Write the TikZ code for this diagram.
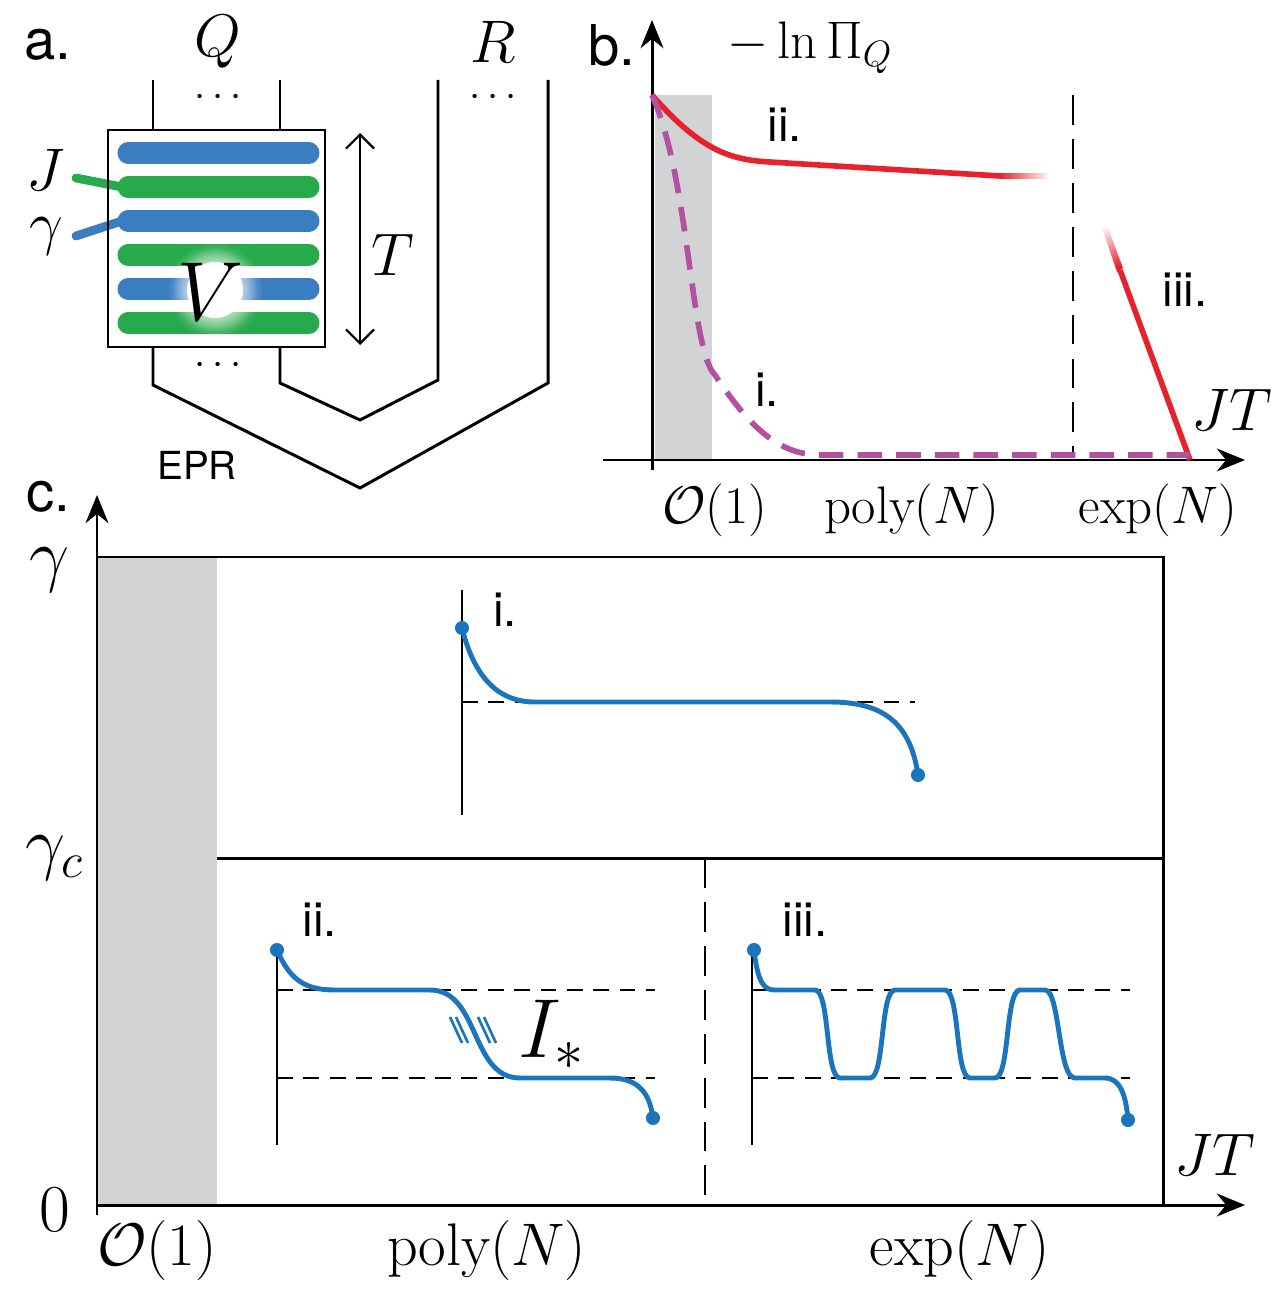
\documentclass[tikz,border=0pt]{standalone}
\usepackage{fontspec}
\setsansfont{TeX Gyre Heros}
\usetikzlibrary{fadings,arrows.meta,calc}
\tikzfading[name=glow, inner color=transparent!0, outer color=transparent!100]
\definecolor{cblue}{RGB}{27,117,188}
\definecolor{cgreen}{RGB}{39,170,75}
\definecolor{cblue2}{RGB}{59,125,193}
\definecolor{cred}{RGB}{230,35,45}
\definecolor{cpurp}{RGB}{180,80,160}
\definecolor{cgray}{RGB}{210,211,213}
\begin{document}
\begin{tikzpicture}[x=0.02cm,y=-0.02cm,
  ml/.style={font=\huge,scale=1.45},
  mb/.style={font=\huge,scale=1.65},
  mh/.style={font=\huge,scale=2.3},
  dts/.style={font=\huge,scale=1.1},
  sl/.style={font=\sffamily\fontsize{27}{30}\selectfont},
  pl/.style={font=\sffamily\fontsize{32}{36}\selectfont},
  wire/.style={line width=1.7pt},
  stripe/.style={line width=12pt,line cap=round},
  bc/.style={cblue,line width=2.8pt},
  dsh/.style={dash pattern=on 9pt off 6pt,line width=1.6pt},
  ax/.style={line width=1.7pt,-{Stealth[length=16pt,width=13pt]}},
  dot/.style={circle,fill=cblue,inner sep=0pt,minimum size=8pt}]
\useasboundingbox (0,0) rectangle (1278,1301);
% ---- panel a
\node[pl] (la) at (48,45) {a.};
\node[mb] (Q) at (218,42) {$Q$};
\node[mb] (R) at (493,42) {$R$};
\draw[wire] (153,80)--(153,130) (280,80)--(280,130);
\draw[wire] (153,347)--(153,385)--(360,488)--(548,383)--(548,80);
\draw[wire] (280,347)--(280,383)--(360,420)--(438,380)--(438,80);
\node[dts] (d1) at (218,98) {$\cdots$};
\node[dts] (d2) at (493,98) {$\cdots$};
\node[dts] (d3) at (218,366) {$\cdots$};
\foreach \y/\c in {153/cblue2,187/cgreen,221/cblue2,255/cgreen,289/cblue2,323/cgreen}
  \draw[stripe,\c] (128,\y)--(309,\y);
\draw[line width=5pt,line cap=round,cgreen] (76,178)--(122,187);
\draw[line width=5pt,line cap=round,cblue2] (76,236)--(122,221);
\fill[white,path fading=glow] (215,290) circle (48);
\fill[white,path fading=glow] (215,290) circle (42);
\fill[white] (215,290) circle (28);
\node[mh] (V) at (211,292) {$V$};
\draw[wire] (108,130) rectangle (325,347);
\node[mb] (J) at (46,170) {$J$};
\node[mb] (g) at (46,236) {$\gamma$};
\draw[line width=1.3pt,{Straight Barb[length=8pt,width=16pt]}-{Straight Barb[length=8pt,width=16pt]}] (360,133)--(360,345);
\node[mb] (T) at (393,255) {$T$};
\node[font=\sffamily\fontsize{22}{24}\selectfont] (epr) at (197,465) {EPR};
% ---- panel b
\node[pl] (lb) at (612,45) {b.};
\fill[cgray] (655,95) rectangle (712,460);
\draw[ax] (603,460)--(1245,460);
\draw[ax] (652,470)--(652,20);
\node[ml] (piq) at (810,48) {$-\ln\Pi_Q$};
\draw[line width=1.5pt,dash pattern=on 17pt off 8pt] (1073,95)--(1073,455);
\draw[cred,line width=3.2pt] (652,95) .. controls (700,150) and (730,160) .. (770,162) -- (1000,176);
\shade[left color=cred,right color=white] (1000,173.2) rectangle (1050,178.8);
\draw[cred,line width=3.2pt] (1120,270)--(1190,460);
\shade[top color=white,bottom color=cred,shading angle=20] (1100,222)--(1105,220)--(1123,268)--(1117,272)--cycle;
\draw[cpurp,line width=3.2pt,dash pattern=on 14pt off 8pt] (652,95) .. controls (690,180) and (690,350) .. (715,375) .. controls (745,420) and (775,455) .. (820,455) -- (1190,455);
\node[sl] (bii) at (785,125) {ii.};
\node[sl] (biii) at (1185,290) {iii.};
\node[sl] (bi) at (767,390) {i.};
\node[mb] (bjt) at (1232,410) {$JT$};
\node[ml] (bo) at (715,510) {$\mathcal{O}(1)$};
\node[ml] (bp) at (912,510) {$\mathrm{poly}(N)$};
\node[ml] (be) at (1158,510) {$\exp(N)$};
% ---- panel c
\node[pl] (lc) at (48,497) {c.};
\fill[cgray] (97,557) rectangle (217,1205);
\draw[line width=1.7pt] (97,557)--(1163,557)--(1163,1205);
\draw[line width=1.7pt] (217,858)--(1163,858);
\draw[line width=1.5pt,dash pattern=on 17pt off 8pt] (705,858)--(705,1205);
\draw[ax] (97,1205)--(1245,1205);
\draw[ax] (97,1215)--(97,495);
\node[mh,scale=0.85] (cg) at (50,570) {$\gamma$};
\node[mh,scale=0.85] (cgc) at (55,858) {$\gamma_c$};
\node[mh,scale=0.8] (c0) at (55,1210) {$0$};
\node[mb] (cjt) at (1215,1155) {$JT$};
\node[mb] (co) at (157,1250) {$\mathcal{O}(1)$};
\node[mb] (cp) at (487,1250) {$\mathrm{poly}(N)$};
\node[mb] (ce) at (960,1250) {$\exp(N)$};
% inset i
\draw[line width=1.5pt] (462,590)--(462,815);
\draw[dsh] (462,702)--(915,702);
\draw[bc] (462,628) .. controls (475,680) and (500,702) .. (535,702) -- (830,702) .. controls (880,702) and (910,720) .. (918,775);
\node[dot] (i1) at (462,628) {};
\node[dot] (i2) at (918,775) {};
\node[sl] (ci) at (505,610) {i.};
% inset ii
\draw[line width=1.5pt] (277,945)--(277,1145);
\draw[dsh] (277,990)--(655,990) (277,1078)--(655,1078);
\draw[bc] (277,950) .. controls (290,980) and (305,990) .. (335,990) -- (430,990) .. controls (480,990) and (470,1078) .. (520,1078) -- (610,1078) .. controls (640,1078) and (650,1095) .. (653,1118);
\node[dot] (ii1) at (277,950) {};
\node[dot] (ii2) at (653,1118) {};
\foreach \d in {-16,-10,12,18}
  \draw[cblue,line width=1.5pt] ($(472,1030)+(\d,0)+(-6,-13)$)--++(12,26);
\node[sl] (cii) at (320,920) {ii.};
\node[mh] (Is) at (552,1035) {$I_*$};
% inset iii
\draw[line width=1.5pt] (752,945)--(752,1145);
\draw[dsh] (752,990)--(1130,990) (752,1078)--(1130,1078);
\draw[bc] (754,950) .. controls (758,985) and (765,990) .. (775,990) -- (815,990)
  .. controls (830,990) and (825,1078) .. (840,1078) -- (870,1078)
  .. controls (885,1078) and (880,990) .. (895,990) -- (945,990)
  .. controls (960,990) and (955,1078) .. (970,1078) -- (995,1078)
  .. controls (1010,1078) and (1005,990) .. (1020,990) -- (1045,990)
  .. controls (1060,990) and (1058,1078) .. (1075,1078) -- (1105,1078)
  .. controls (1120,1078) and (1126,1095) .. (1128,1120);
\node[dot] (iii1) at (754,950) {};
\node[dot] (iii2) at (1128,1120) {};
\node[sl] (ciii) at (805,920) {iii.};
\end{tikzpicture}
\end{document}
